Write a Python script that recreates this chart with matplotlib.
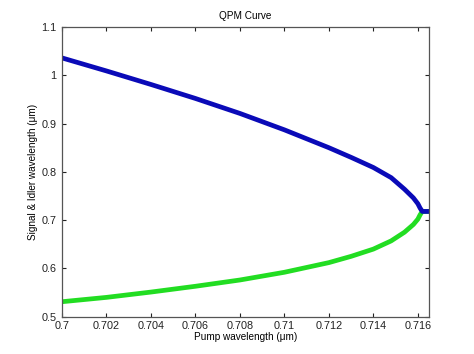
import numpy as np
import matplotlib
matplotlib.use("Agg")
import matplotlib.pyplot as plt

# данные
pump = [0.700, 0.702, 0.704, 0.706, 0.708, 0.710, 0.712, 0.713, 0.714,
        0.7148, 0.7154, 0.7158, 0.7160, 0.7161, 0.7162, 0.7165]
signal = [1.036, 1.009, 0.981, 0.952, 0.921, 0.887, 0.850, 0.830, 0.809,
          0.788, 0.764, 0.746, 0.734, 0.725, 0.718, 0.718]
idler = [0.531, 0.540, 0.551, 0.563, 0.576, 0.592, 0.612, 0.625, 0.640,
         0.657, 0.675, 0.691, 0.702, 0.711, 0.718, 0.718]

xticks = [0.700, 0.702, 0.704, 0.706, 0.708, 0.710, 0.712, 0.714, 0.716]
xlabels = ["0.7", "0.702", "0.704", "0.706", "0.708", "0.71", "0.712", "0.714", "0.716"]
yticks = [0.5, 0.6, 0.7, 0.8, 0.9, 1.0, 1.1]
ylabels = ["0.5", "0.6", "0.7", "0.8", "0.9", "1", "1.1"]

plt.rcParams["font.family"] = ["Liberation Sans", "DejaVu Sans"]

fig = plt.figure(figsize=[4.74, 3.54], dpi=100)
ax = fig.add_axes([0.1308, 0.1054, 0.7742, 0.8183])
ax.plot(pump, idler, color="#22dd22", linewidth=3.4, solid_capstyle="butt")
ax.plot(pump, signal, color="#0a0ab8", linewidth=3.4, solid_capstyle="butt")
ax.set(xlim=[0.7, 0.7165], ylim=[0.5, 1.1])
ax.set_xticks(xticks)
ax.set_xticklabels(xlabels)
ax.set_yticks(yticks)
ax.set_yticklabels(ylabels)
ax.tick_params(direction="in", top=True, right=True, length=3, width=0.8,
               labelsize=7.8, colors="#222222")
ax.tick_params(axis="x", pad=3)
ax.tick_params(axis="y", pad=4)
for s in ax.spines.values():
    s.set_color("#555555")
    s.set_linewidth(0.9)
ax.set_title("QPM Curve", fontsize=7.2, pad=6)
ax.set_xlabel("Pump wavelength (\u03bcm)", fontsize=7.2, labelpad=1)
ax.set_ylabel("Signal & Idler wavelength (\u03bcm)", fontsize=7.2, labelpad=2)

fig.savefig("out.png", dpi=100)
